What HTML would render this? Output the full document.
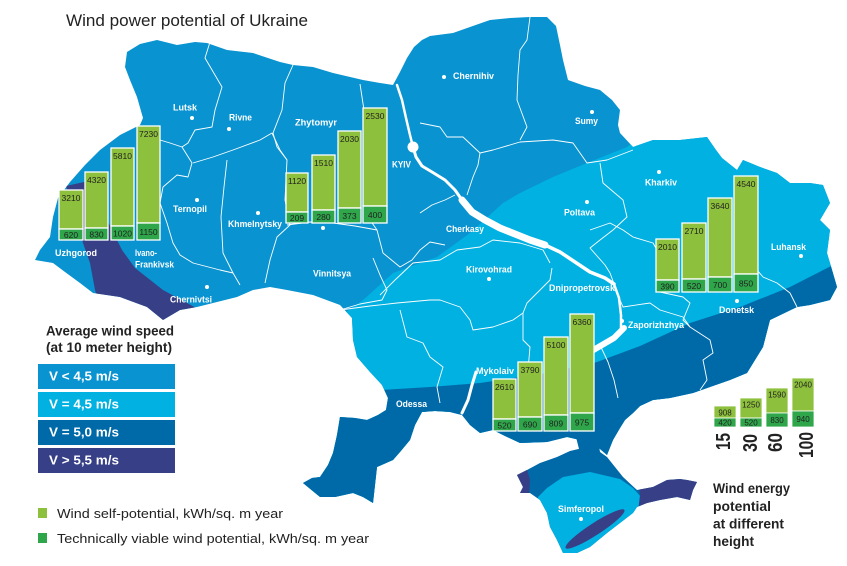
<!DOCTYPE html>
<html><head><meta charset="utf-8"><style>
html,body{margin:0;padding:0;background:#fff;}
svg{display:block;}
text{font-family:"Liberation Sans",sans-serif;}
.city{fill:#fff;font-weight:bold;font-size:9.5px;}
.num{fill:#222;font-size:8.5px;text-anchor:middle;}
.snum{fill:#222;font-size:8px;text-anchor:middle;font-family:"Liberation Serif",serif;}
.bl{fill:none;stroke:#fff;stroke-width:0.9;stroke-linejoin:round;}
</style></head><body>
<svg width="847" height="566" viewBox="0 0 847 566" xmlns="http://www.w3.org/2000/svg">
<defs>
<clipPath id="main"><polygon id="mp" points="127,52 140,44 157,40 177,45 195,42 207,43 227,50 253,53 280,62 293,65 313,67 333,73 363,80 380,83 393,85 400,72 407,58 414,47 422,40 430,36 453,33 470,27 490,20 510,18 530,17 547,17 556,26 560,45 563,60 568,80 585,86 600,90 612,100 620,110 618,125 620,133 633,147 653,140 680,140 707,137 716,150 722,158 737,170 743,160 760,167 777,173 790,183 810,183 823,185 830,203 820,220 830,230 827,253 830,263 837,287 830,300 810,305 797,307 770,320 763,347 747,373 730,380 710,387 693,393 670,398 653,400 640,406 633,413 625,420 620,428 613,440 607,455 600,449 594,443 580,440 567,437 547,442 520,443 505,436 493,430 480,433 470,425 462,415 450,412 435,411 422,412 415,425 410,440 400,452 393,460 377,467 375,485 373,503 363,497 353,493 335,497 320,497 303,483 312,478 320,477 328,465 333,453 337,435 340,417 355,418 367,420 378,415 386,410 388,398 382,385 370,372 357,357 353,340 352,318 340,305 313,295 287,290 270,287 253,290 237,297 213,303 197,307 180,310 163,320 147,307 120,297 93,293 80,283 65,272 53,263 35,260 40,250 50,237 53,217 58,198 70,182 85,165 100,150 120,135 140,125 143,118 137,97 130,80 125,67"/></clipPath>
<clipPath id="cr"><polygon points="557,457 570,451 587,447 600,452 607,457 615,467 623,477 637,490 653,487 667,480 680,479 687,480 697,482 693,490 690,500 677,497 660,500 647,503 637,507 633,513 620,523 607,533 590,547 577,553 563,553 557,540 550,527 547,513 540,500 530,493 520,493 523,487 517,475 527,470 540,463"/></clipPath>
</defs>

<!-- Title -->
<text x="66" y="26" font-size="17" fill="#222" textLength="242" lengthAdjust="spacingAndGlyphs">Wind power potential of Ukraine</text>

<!-- Mainland -->
<g clip-path="url(#main)">
<rect x="0" y="0" width="847" height="566" fill="#0993d0"/>
<polygon points="660,120 627,147 587,163 553,177 520,193 503,203 470,233 437,257 420,263 393,273 363,300 335,320 300,345 300,566 847,566 847,120" fill="#00b1e2"/>
<polygon points="847,250 837,263 790,287 740,307 690,323 640,346 597,362 547,373 480,383 430,387 380,390 340,392 290,400 290,566 847,566" fill="#006aa9"/>
<polygon points="66,186 84,182 100,205 112,230 122,250 135,268 163,290 200,310 170,335 110,330 100,307 95,290 90,263 83,243 75,215" fill="#373f86"/>
</g>

<!-- Crimea -->
<polygon points="576,437 598,440 600,452 580,453" fill="#006aa9"/>
<g clip-path="url(#cr)">
<rect x="500" y="440" width="220" height="126" fill="#006aa9"/>
<polygon points="538,497 547,488 563,477 590,472 620,479 633,488 641,497 641,560 538,560" fill="#00b1e2"/>
<polygon points="505,465 526,466 530,480 529,497 505,497" fill="#373f86"/>
<polygon points="637,470 705,470 705,512 638,512 640,495" fill="#373f86"/>
<ellipse cx="595" cy="529" rx="35" ry="6" transform="rotate(-33 595 529)" fill="#373f86"/>
</g>

<!-- Oblast borders -->
<g class="bl">
<polyline points="210,42 205,58 222,87 215,110 212,127 195,130 188,143 182,147"/>
<polyline points="182,147 170,143 160,140 150,135 140,128"/>
<polyline points="182,147 192,163 188,177 177,175 163,187 160,203 167,223 173,243 180,255 193,263 220,270 233,273"/>
<polyline points="193,163 213,157 233,150 260,140 272,133"/>
<polyline points="227,160 224,187 221,217 223,253 233,273 240,285"/>
<polyline points="293,65 285,83 282,110 273,133 277,147 287,160"/>
<polyline points="272,133 280,150 287,160 285,200 290,225 277,237 270,260 265,283"/>
<polyline points="287,225 310,222 333,223 355,226 377,230"/>
<polyline points="360,84 364,110 367,133 366,160 367,180 370,220 377,230"/>
<polyline points="377,230 383,253 400,267 412,260 420,250 430,242 445,245"/>
<polyline points="373,258 380,275 387,290 382,300 360,304 340,310"/>
<polyline points="380,295 395,280 413,263 440,260 457,250 480,247 493,240 520,243 543,250 550,263"/>
<polyline points="340,310 370,306 397,303 430,300 440,300 460,307 470,320 473,330 493,327 513,320 523,313 527,303 540,290 550,280 552,268"/>
<polyline points="400,310 407,337 423,343 430,357 443,367 437,387 440,403"/>
<polyline points="523,313 523,340 530,347 528,370 535,380"/>
<polyline points="530,17 527,40 520,50 518,75 517,100 527,127 520,140"/>
<polyline points="420,123 440,127 447,137 463,137 480,153 493,150 520,142 553,140 573,143 587,163 607,160 633,150"/>
<polyline points="600,163 603,183 623,200 627,217 613,230 600,240 590,248 605,265 610,273"/>
<polyline points="480,153 478,165 473,177 467,195"/>
<polyline points="590,230 610,223 623,230 633,237 653,243 657,250 662,252"/>
<polyline points="660,292 683,297 690,303 683,320 690,327"/>
<polyline points="610,273 620,300 623,307 650,303 660,310 683,317 690,327 710,340 713,353 703,360 707,380 700,390"/>
<polyline points="757,270 763,277 777,283 790,293 797,307"/>
<polyline points="600,345 608,362 614,380 618,398"/>
<polyline points="420,213 432,205 445,200 455,195"/>
</g>

<!-- Dnieper -->
<g fill="none" stroke="#fff" stroke-linecap="round" stroke-linejoin="round">
<polyline points="397,85 402,100 406,118 410,135 413,147" stroke-width="2.5"/>
<polyline points="413,147 416,157 422,166 432,172 445,180 455,190 462,200" stroke-width="3"/>
<polyline points="462,200 472,212 485,220 500,228 515,234 530,240 545,245" stroke-width="7"/>
<polyline points="545,245 560,252 575,262 590,272 605,278 614,284" stroke-width="3.5"/>
<polyline points="614,284 619,298 621,315 621,328" stroke-width="2.5"/>
<polyline points="624,328 614,338 602,345 590,352" stroke-width="6"/>
<polyline points="462,413 468,400 472,385 476,372" stroke-width="3"/>
</g>
<circle cx="413" cy="147" r="5.5" fill="#fff"/>

<!-- City dots -->
<g fill="#fff">
<circle cx="192" cy="118" r="2"/><circle cx="229" cy="129" r="2"/><circle cx="197" cy="200" r="2"/>
<circle cx="258" cy="213" r="2"/><circle cx="323" cy="228" r="2"/><circle cx="207" cy="287" r="2"/>
<circle cx="444" cy="77" r="2"/><circle cx="592" cy="112" r="2"/><circle cx="659" cy="172" r="2"/>
<circle cx="587" cy="202" r="2"/><circle cx="489" cy="279" r="2"/><circle cx="801" cy="256" r="2"/>
<circle cx="737" cy="301" r="2"/><circle cx="622" cy="321" r="2"/><circle cx="581" cy="519" r="2"/>
</g>

<!-- City labels -->
<g class="city">
<text x="173" y="110.5" textLength="24" lengthAdjust="spacingAndGlyphs">Lutsk</text>
<text x="229" y="120.5" textLength="23" lengthAdjust="spacingAndGlyphs">Rivne</text>
<text x="295" y="125.5" textLength="42" lengthAdjust="spacingAndGlyphs">Zhytomyr</text>
<text x="392" y="167.5" textLength="19" lengthAdjust="spacingAndGlyphs">KYIV</text>
<text x="173" y="212" textLength="34" lengthAdjust="spacingAndGlyphs">Ternopil</text>
<text x="228" y="227" textLength="54" lengthAdjust="spacingAndGlyphs">Khmelnytsky</text>
<text x="313" y="276.5" textLength="38" lengthAdjust="spacingAndGlyphs">Vinnitsya</text>
<text x="55" y="256" textLength="42" lengthAdjust="spacingAndGlyphs">Uzhgorod</text>
<text x="135" y="256" textLength="22" lengthAdjust="spacingAndGlyphs">Ivano-</text>
<text x="135" y="267.5" textLength="39" lengthAdjust="spacingAndGlyphs">Frankivsk</text>
<text x="170" y="302.5" textLength="42" lengthAdjust="spacingAndGlyphs">Chernivtsi</text>
<text x="453" y="79" textLength="41" lengthAdjust="spacingAndGlyphs">Chernihiv</text>
<text x="575" y="124" textLength="23" lengthAdjust="spacingAndGlyphs">Sumy</text>
<text x="645" y="185.5" textLength="32" lengthAdjust="spacingAndGlyphs">Kharkiv</text>
<text x="564" y="215.5" textLength="31" lengthAdjust="spacingAndGlyphs">Poltava</text>
<text x="446" y="232" textLength="38" lengthAdjust="spacingAndGlyphs">Cherkasy</text>
<text x="466" y="272.5" textLength="46" lengthAdjust="spacingAndGlyphs">Kirovohrad</text>
<text x="771" y="250" textLength="35" lengthAdjust="spacingAndGlyphs">Luhansk</text>
<text x="549" y="291" textLength="66" lengthAdjust="spacingAndGlyphs">Dnipropetrovsk</text>
<text x="719" y="313" textLength="35" lengthAdjust="spacingAndGlyphs">Donetsk</text>
<text x="628" y="328" textLength="56" lengthAdjust="spacingAndGlyphs">Zaporizhzhya</text>
<text x="476" y="374" textLength="38" lengthAdjust="spacingAndGlyphs">Mykolaiv</text>
<text x="558" y="512" textLength="46" lengthAdjust="spacingAndGlyphs">Simferopol</text>
<text x="396" y="407" textLength="31" lengthAdjust="spacingAndGlyphs">Odessa</text>
</g>

<!-- Bars -->
<g stroke="#fff" stroke-width="1.3">
<!-- West -->
<rect x="59" y="190" width="24" height="39" fill="#8dc03c"/><rect x="59" y="229" width="24" height="11" fill="#2fa64a"/>
<rect x="85" y="172" width="23" height="56" fill="#8dc03c"/><rect x="85" y="228" width="23" height="12" fill="#2fa64a"/>
<rect x="111" y="148" width="23" height="78" fill="#8dc03c"/><rect x="111" y="226" width="23" height="14" fill="#2fa64a"/>
<rect x="137" y="126" width="23" height="97" fill="#8dc03c"/><rect x="137" y="223" width="23" height="17" fill="#2fa64a"/>
<!-- Zhytomyr -->
<rect x="286" y="173" width="22" height="39" fill="#8dc03c"/><rect x="286" y="212" width="22" height="11" fill="#2fa64a"/>
<rect x="312" y="155" width="23" height="55" fill="#8dc03c"/><rect x="312" y="210" width="23" height="13" fill="#2fa64a"/>
<rect x="338" y="131" width="23" height="77" fill="#8dc03c"/><rect x="338" y="208" width="23" height="15" fill="#2fa64a"/>
<rect x="363" y="108" width="24" height="98" fill="#8dc03c"/><rect x="363" y="206" width="24" height="17" fill="#2fa64a"/>
<!-- Kharkiv -->
<rect x="656" y="239" width="23" height="41" fill="#8dc03c"/><rect x="656" y="280" width="23" height="12" fill="#2fa64a"/>
<rect x="682" y="223" width="24" height="56" fill="#8dc03c"/><rect x="682" y="279" width="24" height="13" fill="#2fa64a"/>
<rect x="708" y="198" width="24" height="79" fill="#8dc03c"/><rect x="708" y="277" width="24" height="15" fill="#2fa64a"/>
<rect x="734" y="176" width="24" height="98" fill="#8dc03c"/><rect x="734" y="274" width="24" height="18" fill="#2fa64a"/>
<!-- Mykolaiv -->
<rect x="493" y="379" width="23" height="40" fill="#8dc03c"/><rect x="493" y="419" width="23" height="12" fill="#2fa64a"/>
<rect x="518" y="362" width="24" height="55" fill="#8dc03c"/><rect x="518" y="417" width="24" height="14" fill="#2fa64a"/>
<rect x="544" y="337" width="24" height="78" fill="#8dc03c"/><rect x="544" y="415" width="24" height="16" fill="#2fa64a"/>
<rect x="570" y="314" width="24" height="99" fill="#8dc03c"/><rect x="570" y="413" width="24" height="18" fill="#2fa64a"/>
</g>
<g stroke="#fff" stroke-width="0.8">
<rect x="714" y="406" width="22" height="12" fill="#8dc03c"/><rect x="714" y="418" width="22" height="9" fill="#2fa64a"/>
<rect x="740" y="398" width="22" height="20" fill="#8dc03c"/><rect x="740" y="418" width="22" height="9" fill="#2fa64a"/>
<rect x="766" y="388" width="22" height="25" fill="#8dc03c"/><rect x="766" y="413" width="22" height="14" fill="#2fa64a"/>
<rect x="792" y="378" width="22" height="33" fill="#8dc03c"/><rect x="792" y="411" width="22" height="16" fill="#2fa64a"/>
</g>

<g class="num">
<text x="71" y="201">3210</text><text x="71" y="237.8">620</text>
<text x="96.5" y="183">4320</text><text x="96.5" y="237.3">830</text>
<text x="122.5" y="159">5810</text><text x="122.5" y="236.3">1020</text>
<text x="148.5" y="137">7230</text><text x="148.5" y="234.8">1150</text>
<text x="297" y="184">1120</text><text x="297" y="220.8">209</text>
<text x="323.5" y="166">1510</text><text x="323.5" y="219.8">280</text>
<text x="349.5" y="142">2030</text><text x="349.5" y="218.8">373</text>
<text x="375" y="119">2530</text><text x="375" y="217.8">400</text>
<text x="667.5" y="250">2010</text><text x="667.5" y="289.3">390</text>
<text x="694" y="234">2710</text><text x="694" y="288.8">520</text>
<text x="720" y="209">3640</text><text x="720" y="287.8">700</text>
<text x="746" y="187">4540</text><text x="746" y="286.3">850</text>
<text x="504.5" y="390">2610</text><text x="504.5" y="428.3">520</text>
<text x="530" y="373">3790</text><text x="530" y="427.3">690</text>
<text x="556" y="348">5100</text><text x="556" y="426.3">809</text>
<text x="582" y="325">6360</text><text x="582" y="425.3">975</text>
</g>
<g class="snum">
<text x="725" y="415.5">908</text><text x="725" y="425.3">420</text>
<text x="751" y="407.5">1250</text><text x="751" y="425.3">520</text>
<text x="777" y="397.5">1590</text><text x="777" y="422.8">830</text>
<text x="803" y="387.5">2040</text><text x="803" y="421.8">940</text>
</g>

<!-- Height labels -->
<g font-weight="bold" font-size="20" fill="#222" text-anchor="end">
<text transform="translate(730,433) rotate(-90)" textLength="17" lengthAdjust="spacingAndGlyphs">15</text>
<text transform="translate(757,434) rotate(-90)" textLength="18" lengthAdjust="spacingAndGlyphs">30</text>
<text transform="translate(782,433) rotate(-90)" textLength="19" lengthAdjust="spacingAndGlyphs">60</text>
<text transform="translate(813,432) rotate(-90)" textLength="26" lengthAdjust="spacingAndGlyphs">100</text>
</g>
<g font-weight="bold" font-size="13.5" fill="#222">
<text x="713" y="493" textLength="77" lengthAdjust="spacingAndGlyphs">Wind energy</text>
<text x="713" y="511" textLength="58" lengthAdjust="spacingAndGlyphs">potential</text>
<text x="713" y="528.5" textLength="71" lengthAdjust="spacingAndGlyphs">at different</text>
<text x="713" y="546" textLength="41" lengthAdjust="spacingAndGlyphs">height</text>
</g>

<!-- Wind speed legend -->
<g font-weight="bold" font-size="13.5" fill="#222">
<text x="46" y="335.5" textLength="128" lengthAdjust="spacingAndGlyphs">Average wind speed</text>
<text x="46" y="352" textLength="126" lengthAdjust="spacingAndGlyphs">(at 10 meter height)</text>
</g>
<rect x="38" y="364" width="137" height="25" fill="#0993d0"/>
<rect x="38" y="392" width="137" height="25" fill="#00b1e2"/>
<rect x="38" y="420" width="137" height="25" fill="#006aa9"/>
<rect x="38" y="448" width="137" height="25" fill="#373f86"/>
<g font-weight="bold" font-size="12.5" fill="#fff">
<text x="49" y="380.5" textLength="70" lengthAdjust="spacingAndGlyphs">V &lt; 4,5 m/s</text>
<text x="49" y="408.5" textLength="70" lengthAdjust="spacingAndGlyphs">V = 4,5 m/s</text>
<text x="49" y="436.5" textLength="70" lengthAdjust="spacingAndGlyphs">V = 5,0 m/s</text>
<text x="49" y="464.5" textLength="70" lengthAdjust="spacingAndGlyphs">V &gt; 5,5 m/s</text>
</g>

<!-- Green legend -->
<rect x="38" y="508" width="9" height="10" fill="#8dc03c"/>
<rect x="38" y="533" width="9" height="10" fill="#2fa64a"/>
<g font-size="12.5" fill="#222">
<text x="57" y="518" textLength="226" lengthAdjust="spacingAndGlyphs">Wind self-potential, kWh/sq. m year</text>
<text x="57" y="543" textLength="312" lengthAdjust="spacingAndGlyphs">Technically viable wind potential, kWh/sq. m year</text>
</g>
</svg>
</body></html>
